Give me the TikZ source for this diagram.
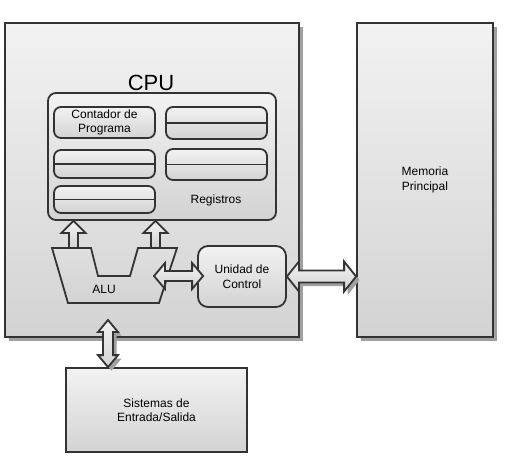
\documentclass[tikz,border=0pt]{standalone}
\usepackage{fontspec}
\setmainfont{Liberation Sans}
\usetikzlibrary{shadows,calc}
\definecolor{edge}{HTML}{333333}
\definecolor{gtop}{HTML}{F2F2F2}
\definecolor{gbot}{HTML}{D3D3D3}
\definecolor{shad}{HTML}{A0A0A0}
\tikzset{
  box/.style={draw=edge, line width=1.8pt, top color=gtop, bottom color=gbot, inner sep=0pt, align=center, font=\fontsize{12}{14.5}\selectfont},
  shadowed/.style={drop shadow={shadow xshift=3.5pt, shadow yshift=-3.5pt, fill=shad, opacity=1}},
  reg/.style={box, rounded corners=7pt, minimum width=101pt},
  barrow/.style={draw=edge, line width=1.8pt, top color=gtop, bottom color=gbot, line join=miter},
  label/.style={font=\fontsize{12}{14.5}\selectfont, align=center, inner sep=0pt},
}
\newcommand\hdbl[6][]{%
  \path[barrow,#1] let \p1=#2, \p2=#3 in
   (\x1,\y1) -- (\x1+#6,\y1+#5) -- (\x1+#6,\y1+#4) -- (\x2-#6,\y1+#4) -- (\x2-#6,\y1+#5) -- (\x2,\y1)
   -- (\x2-#6,\y1-#5) -- (\x2-#6,\y1-#4) -- (\x1+#6,\y1-#4) -- (\x1+#6,\y1-#5) -- cycle;}
\newcommand\vdbl[6][]{%
  \path[barrow,#1] let \p1=#2, \p2=#3 in
   (\x1,\y1) -- (\x1+#5,\y1-#6) -- (\x1+#4,\y1-#6) -- (\x1+#4,\y2+#6) -- (\x1+#5,\y2+#6) -- (\x1,\y2)
   -- (\x1-#5,\y2+#6) -- (\x1-#4,\y2+#6) -- (\x1-#4,\y1-#6) -- (\x1-#5,\y1-#6) -- cycle;}
\newcommand\vup[6][]{%
  \path[barrow,#1] let \p1=#2, \p2=#3 in
   (\x1-#4,\y1) -- (\x1-#4,\y2-#6) -- (\x1-#5,\y2-#6) -- (\x1,\y2) -- (\x1+#5,\y2-#6) -- (\x1+#4,\y2-#6) -- (\x1+#4,\y1) -- cycle;}
\begin{document}
\begin{tikzpicture}[x=1pt,y=-1pt]
\useasboundingbox (0,0) rectangle (512,472);
% main blocks
\node[box, shadowed, minimum width=294pt, minimum height=314pt] (cpu) at (152,180) {};
\node[box, shadowed, minimum width=136pt, minimum height=314pt] (mem) at (425,180) {Memoria\\Principal};
\node[box, minimum width=181pt, minimum height=84pt] (io) at (156.5,410) {Sistemas de\\Entrada/Salida};
\node[font=\fontsize{22}{26}\selectfont, inner sep=0pt] (cpulabel) at (151,83) {CPU};
% registers
\node[box, rounded corners=8pt, minimum width=228pt, minimum height=127pt] (regs) at (162,156.5) {};
\node[reg, minimum height=31pt] (pc) at (104.5,122.5) {Contador de\\Programa};
\node[reg, minimum height=32pt] (r1) at (216.5,123) {};
\node[reg, minimum height=28pt] (r2) at (104.5,164) {};
\node[reg, minimum height=31pt] (r3) at (216.5,164.5) {};
\node[reg, minimum height=27pt] (r4) at (104.5,199.5) {};
\foreach \r in {r1,r2,r3,r4} \draw[edge, line width=1.8pt] (\r.west) -- (\r.east);
\node[label] (reglabel) at (216,200) {Registros};
% ALU
\draw[edge, line width=1.8pt, top color=gtop!40!gbot, bottom color=gbot] (52,248) -- (91,248) -- (98,276) -- (130,276) -- (138,248) -- (177,248) -- (159,303) -- (68,303) -- cycle;
\node[label] (alu) at (104,289) {ALU};
\coordinate (alu1) at (73.5,248);
\coordinate (alu2) at (155.5,248);
\coordinate (aluR) at (154,276);
% control unit
\node[box, rounded corners=10pt, minimum width=88pt, minimum height=61pt] (uc) at (242,276.5) {Unidad de\\Control};
% arrows
\vup{(alu1)}{(alu1 |- regs.south)}{4.5}{12}{12}
\vup{(alu2)}{(alu2 |- regs.south)}{4.5}{12}{12}
\hdbl{(aluR)}{($(uc.west)+(6,0)$)}{5}{13}{11}
\hdbl[shadowed]{(uc.east)}{(mem.west |- uc.east)}{6}{15}{12}
\coordinate (ioTop) at (108,320);
\vdbl[shadowed]{(ioTop)}{(ioTop |- io.north)}{5}{10}{12}
\end{tikzpicture}
\end{document}
